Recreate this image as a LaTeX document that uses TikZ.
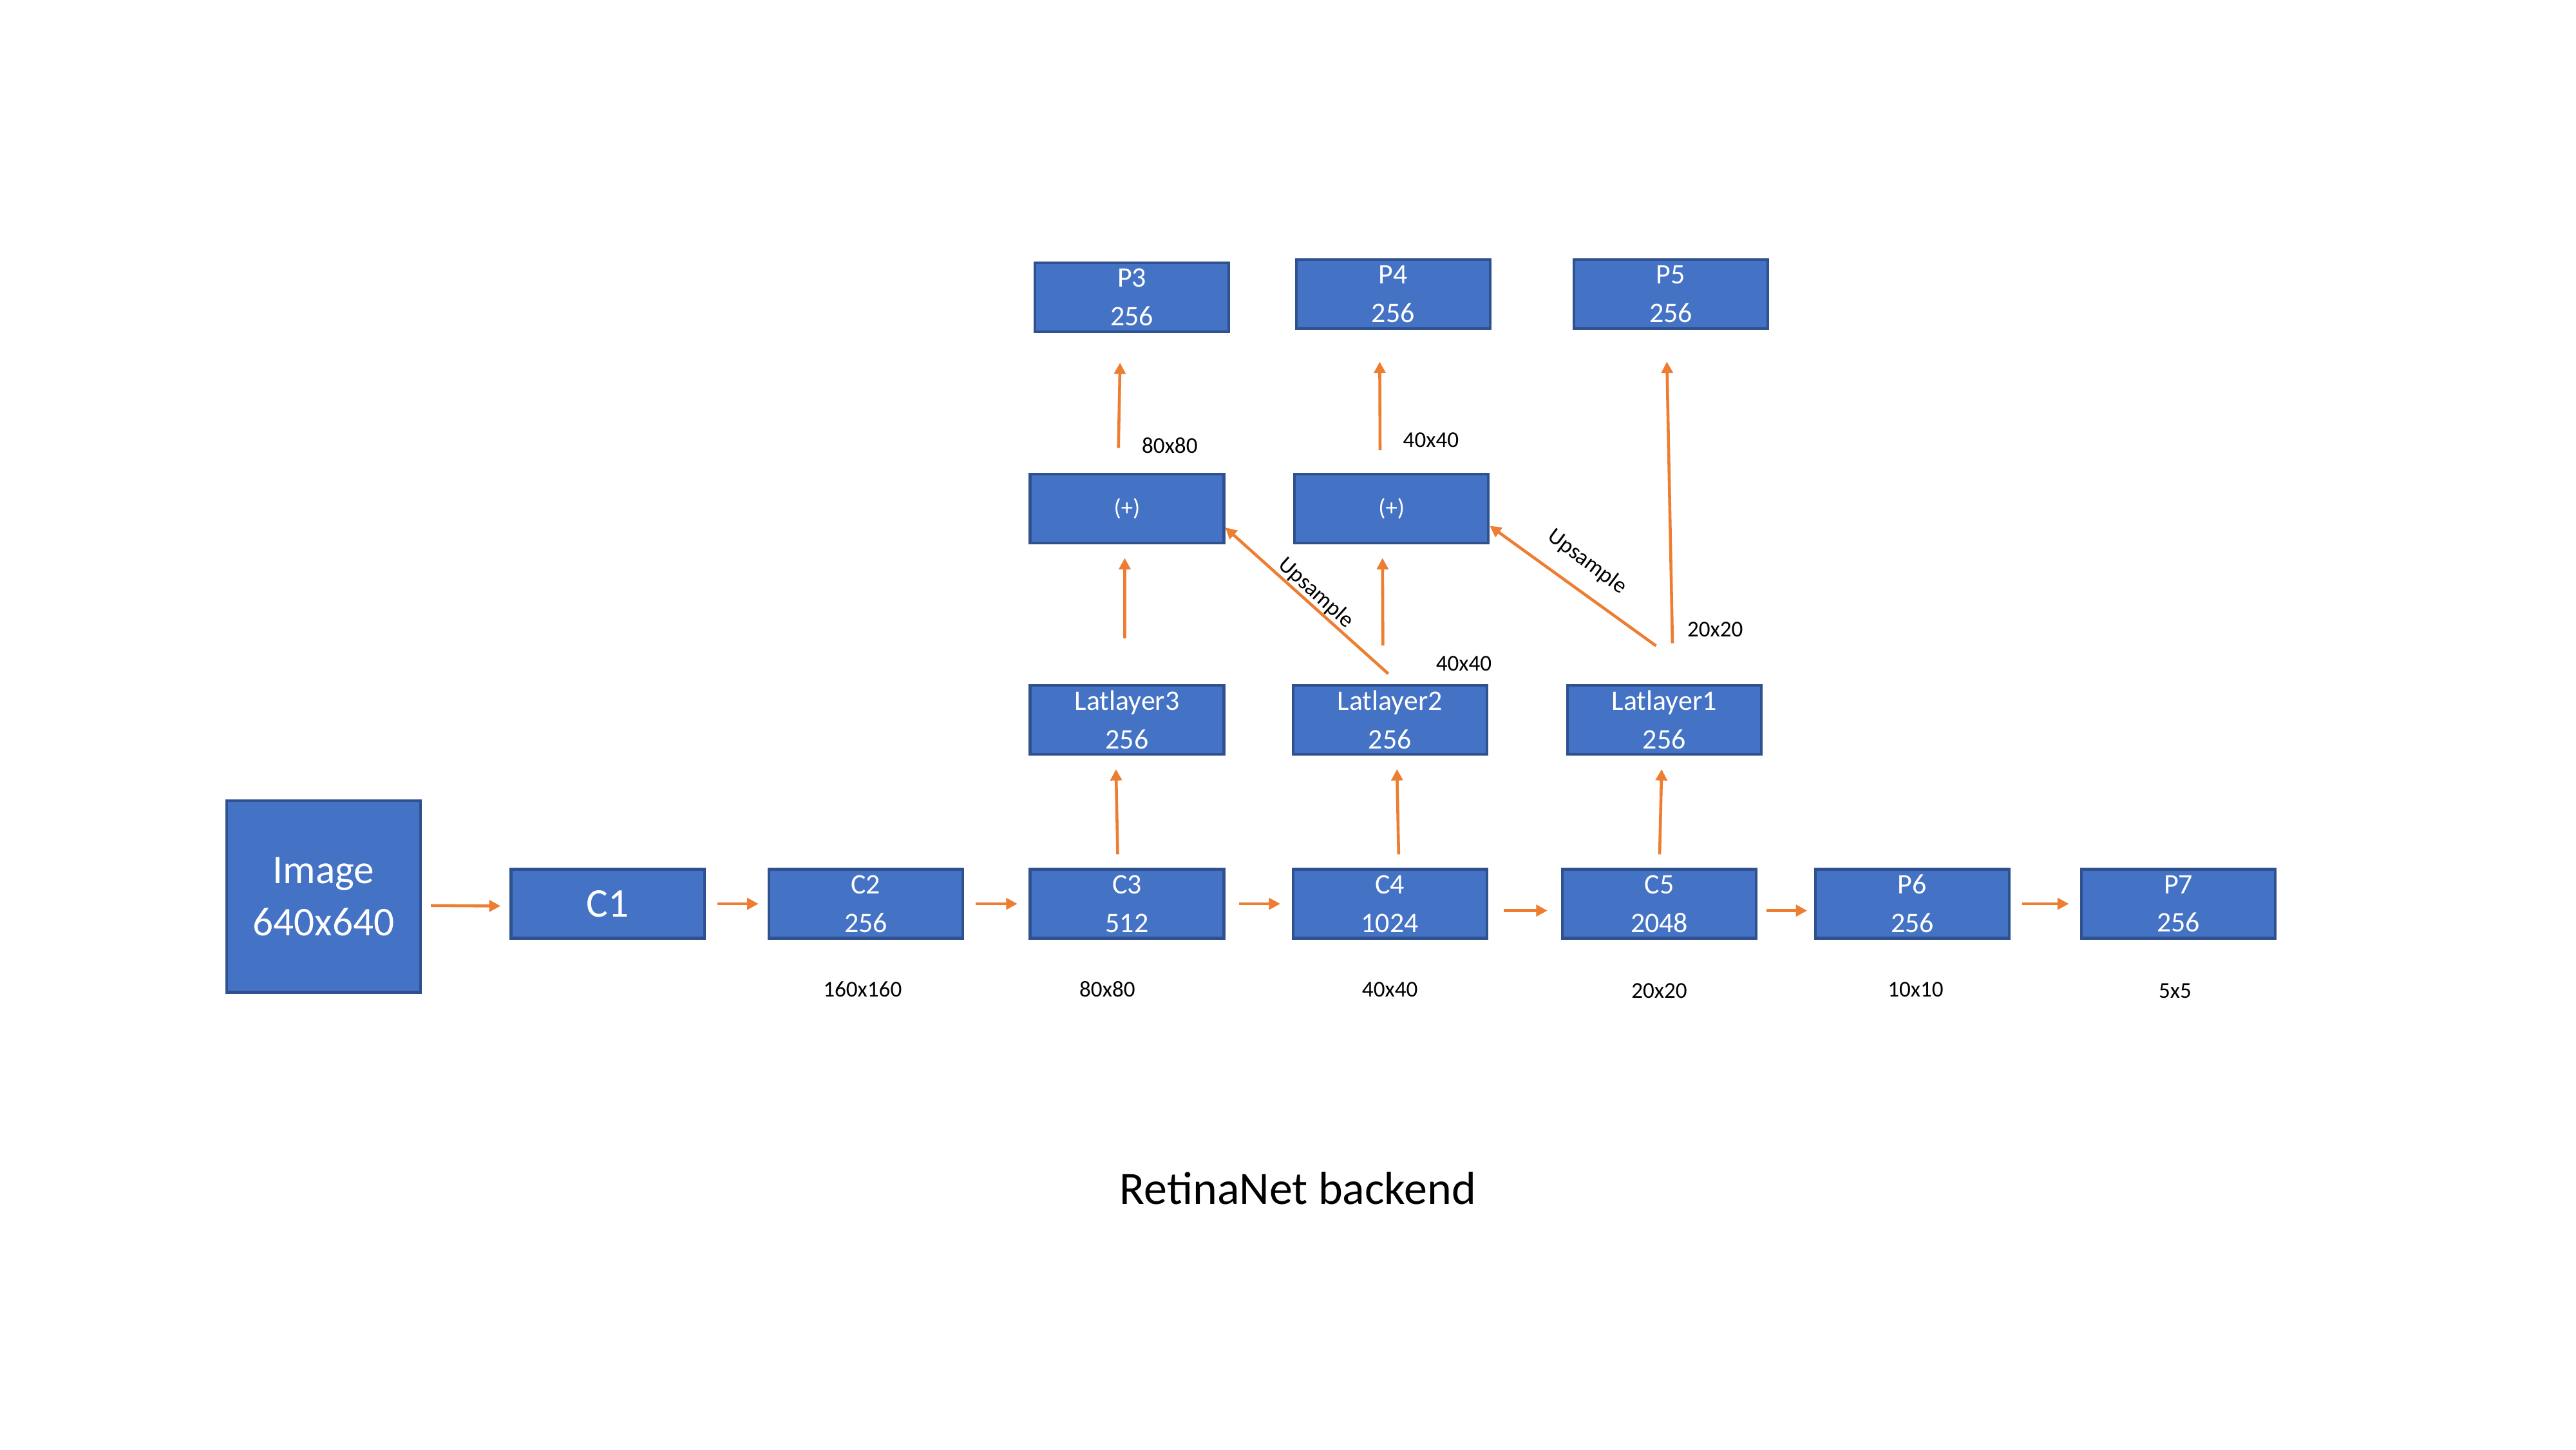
\documentclass[tikz,border=0pt]{standalone}
\usepackage{fontspec}
\setmainfont{Carlito}
\usetikzlibrary{arrows.meta}
\definecolor{boxfill}{RGB}{68,114,196}
\definecolor{boxline}{RGB}{47,82,143}
\definecolor{arr}{RGB}{237,125,49}
\begin{document}
\begin{tikzpicture}[x=0.02551cm,y=-0.02551cm,
  box/.style={draw=boxline,line width=1.2pt,fill=boxfill,text=white,minimum width=3.01cm,minimum height=1.07cm,inner sep=0pt,align=center,font=\fontsize{12.5}{17}\selectfont},
  big/.style={box,font=\fontsize{18}{23}\selectfont},
  lab/.style={font=\fontsize{10}{12}\selectfont},
  ar/.style={draw=arr,line width=1.3pt,-{Triangle[length=5pt,width=5pt]}}]
\fill[white] (0,0) rectangle (1568,882);
\useasboundingbox (0,0) rectangle (1568,882);
\node[big,minimum height=2.98cm] (img) at (197,545.5) {Image\\640x640};
\node[big] (C1) at (370,550) {C1};
\node[box] (C2) at (527,550) {C2\\256};
\node[box] (C3) at (686,550) {C3\\512};
\node[box] (C4) at (846,550) {C4\\1024};
\node[box] (C5) at (1010,550) {C5\\2048};
\node[box] (P6) at (1164,550) {P6\\256};
\node[box] (P7) at (1326,550) {P7\\256};
\node[box] (L3) at (686,438) {Latlayer3\\256};
\node[box] (L2) at (846,438) {Latlayer2\\256};
\node[box] (L1) at (1013,438) {Latlayer1\\256};
\node[box,font=\fontsize{10.5}{12}\selectfont] (S3) at (686,309.5) {(+)};
\node[box,font=\fontsize{10.5}{12}\selectfont] (S4) at (847,309.5) {(+)};
\node[box] (P3) at (689,181) {P3\\256};
\node[box] (P4) at (848,179) {P4\\256};
\node[box] (P5) at (1017,179) {P5\\256};
% horizontal arrows
\draw[ar,shorten <=4pt,shorten >=4pt] ([yshift=-4pt]img.east) -- ([yshift=-1pt]C1.west);
\draw[ar,shorten <=5pt,shorten >=4pt] (C1.east) -- (C2.west);
\draw[ar,shorten <=5pt,shorten >=5pt] (C2.east) -- (C3.west);
\draw[ar,shorten <=6pt,shorten >=5pt] (C3.east) -- (C4.west);
\draw[ar,shorten <=7pt,shorten >=6pt] ([yshift=-3pt]C4.east) -- ([yshift=-3pt]C5.west);
\draw[ar,shorten <=4pt,shorten >=3pt] ([yshift=-3pt]C5.east) -- ([yshift=-3pt]P6.west);
\draw[ar,shorten <=5pt,shorten >=5pt] (P6.east) -- (P7.west);
% vertical arrows
\draw[ar,shorten <=6pt,shorten >=6pt] ([xshift=-4pt]C3.north) -- ([xshift=-5pt]L3.south);
\draw[ar,shorten <=6pt,shorten >=6pt] ([xshift=4pt]C4.north) -- ([xshift=3pt]L2.south);
\draw[ar,shorten <=6pt,shorten >=6pt] (C5.north) -- ([xshift=-1pt]L1.south);
\draw[ar,shorten <=20pt,shorten >=6pt] ([xshift=-1pt]L3.north) -- ([xshift=-1pt]S3.south);
\draw[ar,shorten <=17pt,shorten >=6pt] ([xshift=-3pt]L2.north) -- ([xshift=-4pt]S4.south);
\draw[ar,shorten <=11pt,shorten >=13pt] ([xshift=-4pt]S3.north) -- ([xshift=-5pt]P3.south);
\draw[ar,shorten <=10pt,shorten >=14pt] ([xshift=-5pt]S4.north) -- ([xshift=-6pt]P4.south);
\draw[ar,shorten <=18pt,shorten >=14pt] ([xshift=4pt]L1.north) -- ([xshift=-2pt]P5.south);
% upsample
\coordinate (u2) at (845,410);
\coordinate (u1) at (1008,393);
\draw[ar] (u2) -- (S3.east |- 0,321);
\draw[ar] (u1) -- (S4.east |- 0,320);
\node[lab,rotate=-42] at (801,361) {Upsample};
\node[lab,rotate=-37] at (966,342) {Upsample};
% labels
\node[lab] at (712,271) {80x80};
\node[lab] at (871,268) {40x40};
\node[lab] at (891,404) {40x40};
\node[lab] at (1044,383) {20x20};
\node[lab] at (525,602) {160x160};
\node[lab] at (674,602) {80x80};
\node[lab] at (846,602) {40x40};
\node[lab] at (1010,603) {20x20};
\node[lab] at (1166,602) {10x10};
\node[lab] at (1324,603) {5x5};
\node[font=\fontsize{20.5}{24}\selectfont] (title) at (790,723) {RetinaNet backend};
\end{tikzpicture}
\end{document}
